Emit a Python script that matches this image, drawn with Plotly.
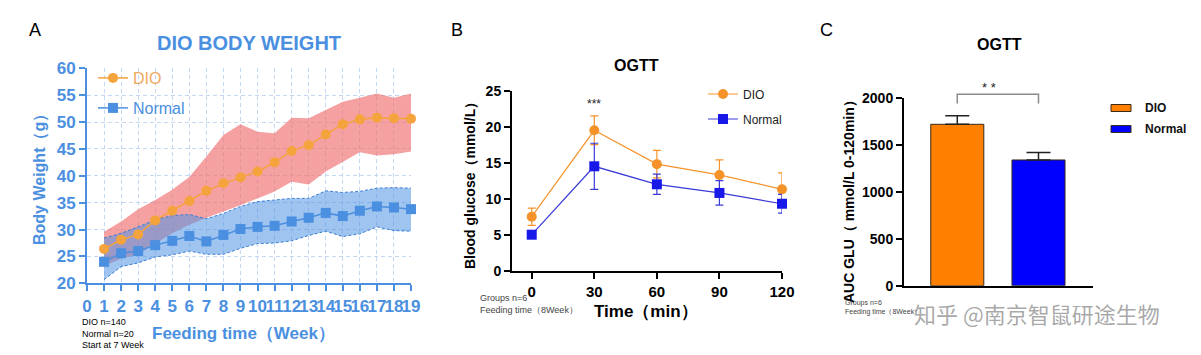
import plotly.graph_objects as go

W, H = 1201, 355

# ---------------- data ----------------
weeks = list(range(1, 20))
dio_mean = [26.4, 28.1, 29.1, 31.7, 33.5, 35.3, 37.2, 38.6, 39.7, 40.8, 42.5, 44.6, 45.7, 47.7, 49.6, 50.5, 50.8, 50.7, 50.6]
dio_upper = [29.6, 31.5, 33.8, 35.5, 37.4, 39.8, 43.6, 47.6, 49.6, 48.2, 47.9, 50.8, 50.7, 52.2, 53.8, 54.5, 55.3, 54.5, 55.3]
dio_lower = [23.2, 24.6, 25.3, 27.4, 29.3, 30.9, 32.2, 33.3, 34.5, 35.8, 37.1, 38.9, 38.4, 40.8, 42.6, 44.4, 43.8, 44.0, 44.5]
norm_mean = [24.0, 25.6, 26.0, 27.1, 27.9, 28.8, 27.8, 29.0, 30.1, 30.5, 30.7, 31.5, 32.2, 33.1, 32.5, 33.5, 34.3, 34.1, 33.8]
norm_upper = [28.4, 29.3, 30.5, 31.8, 32.6, 32.8, 32.0, 33.0, 34.3, 35.2, 35.5, 35.8, 35.8, 37.2, 36.9, 37.1, 37.7, 37.8, 37.7]
norm_lower = [20.7, 23.1, 23.8, 24.9, 25.3, 26.0, 25.4, 25.4, 26.5, 27.4, 27.5, 27.9, 28.9, 29.7, 28.7, 29.2, 30.5, 29.8, 29.7]

times = [0, 30, 60, 90, 120]
ogtt_dio = [7.5, 19.5, 14.8, 13.3, 11.3]
ogtt_dio_sd = [1.2, 2.0, 1.9, 2.1, 2.3]
ogtt_norm = [5.0, 14.5, 12.0, 10.8, 9.3]
ogtt_norm_sd = [0.3, 3.2, 1.4, 1.7, 1.3]

groups = ["DIO", "Normal"]
auc = [1716, 1337]
auc_sd = [90, 80]

# ---------------- styles ----------------
FONT = "Arial, Liberation Sans, sans-serif"
ABLUE = "#4a8fe0"
AORANGE = "#f5a33c"
BORANGE = "#f5932a"
BBLUE = "#1818e8"
bar_colors = ["#ff8000", "#0000ff"]


def px(x):
    return x / W


def py(y):
    return 1 - y / H


# domains (pixels -> paper)
xA = [px(87), px(411)]
yA = [py(283.3), py(68.3)]
xB = [px(512), px(782)]
yB = [py(270.7), py(90.7)]
xC = [px(904), px(1093)]
yC = [py(285.7), py(97.6)]
rangeC = [-0.656, 1.671]

fig = go.Figure()

# ---- Panel A ----
fig.add_trace(go.Scatter(x=weeks, y=dio_lower, mode="lines", line=dict(width=0, color="rgba(0,0,0,0)"),
                         xaxis="x", yaxis="y", showlegend=False, hoverinfo="skip"))
fig.add_trace(go.Scatter(x=weeks, y=dio_upper, mode="lines", line=dict(width=0, color="rgba(0,0,0,0)"),
                         fill="tonexty", fillcolor="rgba(242,112,112,0.66)",
                         xaxis="x", yaxis="y", showlegend=False, hoverinfo="skip"))
fig.add_trace(go.Scatter(x=weeks, y=norm_lower, mode="lines", line=dict(width=1, color="#3a7fd5", dash="3px,2px"),
                         xaxis="x", yaxis="y", showlegend=False, hoverinfo="skip"))
fig.add_trace(go.Scatter(x=weeks, y=norm_upper, mode="lines", line=dict(width=1, color="#3a7fd5", dash="3px,2px"),
                         fill="tonexty", fillcolor="rgba(80,148,228,0.55)",
                         xaxis="x", yaxis="y", showlegend=False, hoverinfo="skip"))
fig.add_trace(go.Scatter(x=weeks, y=dio_mean, mode="lines+markers", name="DIO",
                         line=dict(width=1.5, color=AORANGE),
                         marker=dict(symbol="circle", size=10, color=AORANGE),
                         xaxis="x", yaxis="y", legend="legend", cliponaxis=False))
fig.add_trace(go.Scatter(x=weeks, y=norm_mean, mode="lines+markers", name="Normal",
                         line=dict(width=1.5, color=ABLUE),
                         marker=dict(symbol="square", size=10, color=ABLUE),
                         xaxis="x", yaxis="y", legend="legend2", cliponaxis=False))

# ---- Panel B ----
fig.add_trace(go.Scatter(x=times, y=ogtt_dio, mode="lines+markers", name="DIO",
                         line=dict(width=1.2, color=BORANGE),
                         marker=dict(symbol="circle", size=10, color=BORANGE),
                         error_y=dict(type="data", array=ogtt_dio_sd, color=BORANGE, thickness=1.2, width=4),
                         xaxis="x2", yaxis="y2", legend="legend3", cliponaxis=False))
fig.add_trace(go.Scatter(x=times, y=ogtt_norm, mode="lines+markers", name="Normal",
                         line=dict(width=1.2, color="#3a3ad8"),
                         marker=dict(symbol="square", size=10, color=BBLUE),
                         error_y=dict(type="data", array=ogtt_norm_sd, color="#3a3ad8", thickness=1.2, width=4),
                         xaxis="x2", yaxis="y2", legend="legend4", cliponaxis=False))

# ---- Panel C ----
for i, g in enumerate(groups):
    fig.add_trace(go.Bar(x=[g], y=[auc[i]], name=g, width=0.653, showlegend=False,
                         marker=dict(color=bar_colors[i], line=dict(color="#3a2a1a", width=1)),
                         error_y=dict(type="data", symmetric=False, array=[auc_sd[i]], arrayminus=[0],
                                      color="#222222", thickness=1.5, width=12),
                         xaxis="x3", yaxis="y3"))

axis_black = dict(showline=True, linecolor="black", linewidth=2, ticks="outside", ticklen=6, tickwidth=2,
                  tickcolor="black", showgrid=False, zeroline=False, automargin=False,
                  tickfont=dict(family=FONT, size=14, color="black", weight="bold"))

layout = dict(
    width=W, height=H, margin=dict(l=0, r=0, t=0, b=0, autoexpand=False),
    paper_bgcolor="white", plot_bgcolor="rgba(0,0,0,0)",
    font=dict(family=FONT, color="black"),
    barmode="overlay",
    xaxis=dict(domain=xA, anchor="y", range=[0, 19], dtick=1, tick0=0, tickangle=0, automargin=False,
               showline=True, linecolor=ABLUE, linewidth=2, ticks="outside", ticklen=6, tickwidth=2, tickcolor=ABLUE,
               showgrid=True, gridcolor="#c3d8f3", griddash="4px,3px", gridwidth=1, zeroline=False,
               tickfont=dict(family=FONT, size=17, color=ABLUE, weight="bold")),
    yaxis=dict(domain=yA, anchor="x", range=[20, 60], dtick=5, automargin=False,
               showline=True, linecolor=ABLUE, linewidth=2, ticks="outside", ticklen=6, tickwidth=2, tickcolor=ABLUE,
               showgrid=True, gridcolor="#c3d8f3", griddash="4px,3px", gridwidth=1, zeroline=False,
               tickfont=dict(family=FONT, size=17, color=ABLUE, weight="bold")),
    xaxis2=dict(domain=xB, anchor="y2", range=[-9.46, 120], tickvals=times, tickangle=0,
                **{**axis_black, "tickfont": dict(family=FONT, size=15, color="black", weight="bold")}),
    yaxis2=dict(domain=yB, anchor="x2", range=[0, 25], dtick=5, **axis_black),
    xaxis3=dict(domain=xC, anchor="y3", range=rangeC, type="category", showticklabels=False, ticks="",
                automargin=False,
                showline=True, linecolor="black", linewidth=2, showgrid=False, zeroline=False),
    yaxis3=dict(domain=yC, anchor="x3", range=[0, 2000], dtick=500, **axis_black),
    showlegend=True,
)

leg_common = dict(bgcolor="rgba(0,0,0,0)", borderwidth=0, xanchor="left", yanchor="middle")
layout["legend"] = dict(x=px(93), y=py(78), font=dict(family=FONT, size=16, color="#f0a860"), **leg_common)
layout["legend2"] = dict(x=px(93), y=py(108), font=dict(family=FONT, size=16, color=ABLUE), **leg_common)
layout["legend3"] = dict(x=px(703), y=py(94), font=dict(family=FONT, size=12, color="#222"), **leg_common)
layout["legend4"] = dict(x=px(703), y=py(119), font=dict(family=FONT, size=12, color="#222"), **leg_common)

fig.update_layout(**layout)

ann = []


def add_text(text, x, y, size, color="black", bold=False, angle=0, xanchor="center", yanchor="middle",
             family=FONT, align="center"):
    ann.append(dict(text=text, x=px(x), y=py(y), xref="paper", yref="paper", showarrow=False,
                    font=dict(family=family, size=size, color=color, weight="bold" if bold else "normal"),
                    textangle=angle, xanchor=xanchor, yanchor=yanchor, align=align))


# panel letters
add_text("A", 35, 30, 18)
add_text("B", 457, 30, 18)
add_text("C", 826, 30, 18)

# panel A texts
add_text("DIO BODY WEIGHT", 249, 43, 20, color=ABLUE, bold=True)
add_text("Body Weight（g）", 40, 176, 16, color=ABLUE, bold=True, angle=-90)
add_text("Feeding time（Week）", 243, 333, 17, color=ABLUE, bold=True)
add_text("DIO n=140<br>Normal n=20<br>Start at 7 Week", 80, 333, 9, xanchor="left", align="left")

# panel B texts
add_text("OGTT", 636, 66, 16, bold=True)
add_text("Blood glucose（mmol/L）", 470, 182, 14, bold=True, angle=-90)
add_text("Time（min）", 646, 311, 17, bold=True)
add_text("Groups n=6<br>Feeding time（8Week）", 478, 304, 9, color="#444", xanchor="left", align="left")
ann.append(dict(text="***", x=times[1], y=ogtt_dio[1] + ogtt_dio_sd[1] + 1.7, xref="x2", yref="y2",
                showarrow=False, font=dict(family=FONT, size=12, color="#222")))

# panel C texts
add_text("OGTT", 1000, 44, 16, bold=True)
add_text("AUC GLU（ mmol/L 0-120min）", 849, 198, 14, bold=True, angle=-90)
add_text("Groups n=6<br>Feeding time（8Week）", 843, 307, 7, color="#444", xanchor="left", align="left")

# legend for panel C (swatches + labels)
shapes = []
for i, g in enumerate(groups):
    yc = 108 + 21 * i
    shapes.append(dict(type="rect", xref="paper", yref="paper", x0=px(1111), x1=px(1131),
                       y0=py(yc + 3.5), y1=py(yc - 3.5), fillcolor=bar_colors[i],
                       line=dict(color="#3a2a1a", width=1)))
    add_text(g, 1143, yc, 12, color="#111", bold=True, xanchor="left")


# significance bracket in C (positions derived from bar data through axis scale)
def cx(i):
    return xC[0] + (i - rangeC[0]) / (rangeC[1] - rangeC[0]) * (xC[1] - xC[0])


def cy(v):
    return yC[0] + v / 2000 * (yC[1] - yC[0])


br_top = max(a + s for a, s in zip(auc, auc_sd)) + 230
br_bot = br_top - 100
shapes.append(dict(type="path", xref="paper", yref="paper",
                   path=f"M{cx(0)},{cy(br_bot)} L{cx(0)},{cy(br_top)} L{cx(1)},{cy(br_top)} L{cx(1)},{cy(br_bot)}",
                   line=dict(color="#8a8a8a", width=1.5)))
ann.append(dict(text="* *", x=(cx(0) + cx(1)) / 2, y=cy(br_top) + 7 / H, xref="paper", yref="paper",
                showarrow=False, yanchor="middle", font=dict(family=FONT, size=13, color="#222")))

# watermark
add_text("知乎 @南京智鼠研途生物", 1037, 313, 22, color="rgba(140,140,140,0.75)",
         family="Noto Sans CJK SC")

fig.update_layout(annotations=ann, shapes=shapes)

fig.write_html("out.html", config={"displayModeBar": False},
               post_script="document.body.style.margin='0';document.body.style.overflow='hidden';")
